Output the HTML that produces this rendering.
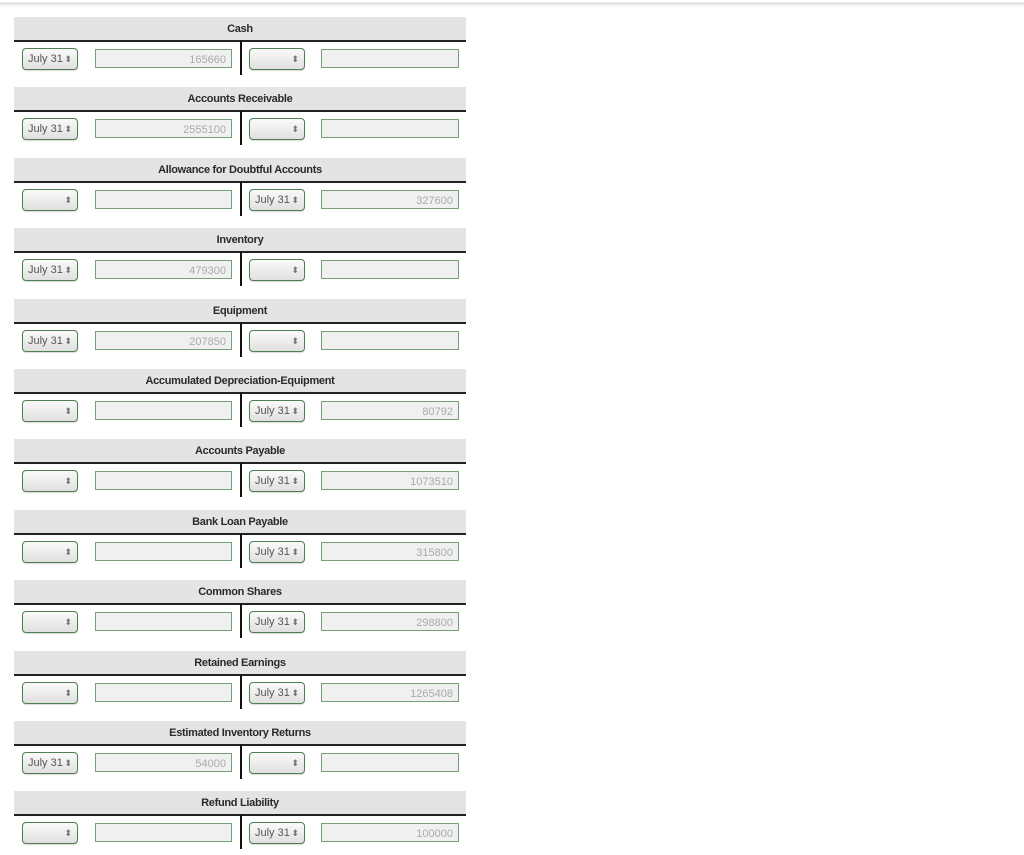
<!DOCTYPE html>
<html><head><meta charset="utf-8"><style>
html,body{margin:0;padding:0;background:#fff;width:1024px;height:855px;overflow:hidden;position:relative;font-family:"Liberation Sans",sans-serif}
.top{position:absolute;left:0;top:0;width:1024px;height:8px;background:linear-gradient(#fff 0,#fff 2px,#d4d4d4 3px,#ececec 4px,#fff 8px)}
.b{position:absolute;left:0;width:480px;height:70px}
.t{position:absolute;left:14px;top:0;width:452px;height:23px;background:#e4e4e4;border-bottom:2px solid #222;text-align:center;font-size:11px;font-weight:bold;line-height:25px;color:#2a2a2a;letter-spacing:-0.3px}
.v{position:absolute;left:240px;top:24px;width:2px;height:34px;background:#111}
.s{position:absolute;top:31px;width:54px;height:20px;border:1px solid #4f7f4f;border-radius:4px;background:linear-gradient(#fafafa,#e0e0e0);box-shadow:0 1px 1px rgba(0,0,0,.15);font-size:11px;color:#555;line-height:21px;box-sizing:content-box}
.s span{position:absolute;left:5px}
.s i{position:absolute;right:5px;top:0;font-style:normal;font-size:9px;color:#777;line-height:21px}
.l{left:22px}.r{left:249px}
.in{position:absolute;top:32px;height:19px;border:1px solid #74a074;background:#f0f0f0;font-size:11px;color:#aaa;text-align:right;line-height:20px;padding-right:5px;box-sizing:border-box}
.il{left:95px;width:137px}.ir{left:321px;width:138px}
</style></head><body>
<div class="top"></div>

<div class="b" style="top:17px"><div class="t">Cash</div><div class="v"></div>
<div class="s l"><span>July 31</span><i>⬍</i></div><div class="in il">165660</div>
<div class="s r"><i>⬍</i></div><div class="in ir"></div></div>

<div class="b" style="top:87.4px"><div class="t">Accounts Receivable</div><div class="v"></div>
<div class="s l"><span>July 31</span><i>⬍</i></div><div class="in il">2555100</div>
<div class="s r"><i>⬍</i></div><div class="in ir"></div></div>

<div class="b" style="top:157.8px"><div class="t">Allowance for Doubtful Accounts</div><div class="v"></div>
<div class="s l"><i>⬍</i></div><div class="in il"></div>
<div class="s r"><span>July 31</span><i>⬍</i></div><div class="in ir">327600</div></div>

<div class="b" style="top:228.2px"><div class="t">Inventory</div><div class="v"></div>
<div class="s l"><span>July 31</span><i>⬍</i></div><div class="in il">479300</div>
<div class="s r"><i>⬍</i></div><div class="in ir"></div></div>

<div class="b" style="top:298.6px"><div class="t">Equipment</div><div class="v"></div>
<div class="s l"><span>July 31</span><i>⬍</i></div><div class="in il">207850</div>
<div class="s r"><i>⬍</i></div><div class="in ir"></div></div>

<div class="b" style="top:369px"><div class="t">Accumulated Depreciation-Equipment</div><div class="v"></div>
<div class="s l"><i>⬍</i></div><div class="in il"></div>
<div class="s r"><span>July 31</span><i>⬍</i></div><div class="in ir">80792</div></div>

<div class="b" style="top:439.4px"><div class="t">Accounts Payable</div><div class="v"></div>
<div class="s l"><i>⬍</i></div><div class="in il"></div>
<div class="s r"><span>July 31</span><i>⬍</i></div><div class="in ir">1073510</div></div>

<div class="b" style="top:509.8px"><div class="t">Bank Loan Payable</div><div class="v"></div>
<div class="s l"><i>⬍</i></div><div class="in il"></div>
<div class="s r"><span>July 31</span><i>⬍</i></div><div class="in ir">315800</div></div>

<div class="b" style="top:580.2px"><div class="t">Common Shares</div><div class="v"></div>
<div class="s l"><i>⬍</i></div><div class="in il"></div>
<div class="s r"><span>July 31</span><i>⬍</i></div><div class="in ir">298800</div></div>

<div class="b" style="top:650.6px"><div class="t">Retained Earnings</div><div class="v"></div>
<div class="s l"><i>⬍</i></div><div class="in il"></div>
<div class="s r"><span>July 31</span><i>⬍</i></div><div class="in ir">1265408</div></div>

<div class="b" style="top:721px"><div class="t">Estimated Inventory Returns</div><div class="v"></div>
<div class="s l"><span>July 31</span><i>⬍</i></div><div class="in il">54000</div>
<div class="s r"><i>⬍</i></div><div class="in ir"></div></div>

<div class="b" style="top:791.4px"><div class="t">Refund Liability</div><div class="v"></div>
<div class="s l"><i>⬍</i></div><div class="in il"></div>
<div class="s r"><span>July 31</span><i>⬍</i></div><div class="in ir">100000</div></div>

</body></html>
